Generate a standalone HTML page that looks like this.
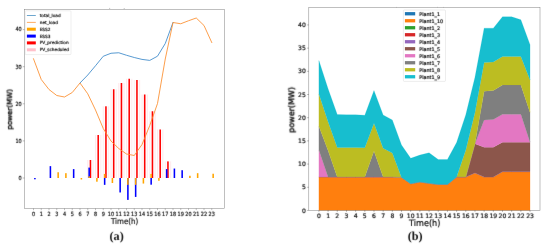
<!DOCTYPE html>
<html lang="en">
<head>
<meta charset="utf-8">
<title>Figure: load, PV and ESS scheduling (a) and plant output stack (b)</title>
<style>
html,body{margin:0;padding:0;background:#fff;}
body{width:550px;height:244px;overflow:hidden;}
svg{display:block;}
svg text{font-family:"DejaVu Sans", "Liberation Sans", sans-serif;fill:#0d0d0d;stroke:#0d0d0d;stroke-width:0.2px;filter:url(#tb);text-rendering:geometricPrecision;}
svg text.yl{stroke-width:0.36px;}
svg text.cap{font-family:"Liberation Serif","DejaVu Serif",serif;fill:#111;stroke:none;filter:url(#tc);}
</style>
</head>
<body>
<svg width="550" height="244" viewBox="0 0 550 244">
<defs><filter id="tb" x="-10%" y="-40%" width="120%" height="180%" color-interpolation-filters="sRGB"><feConvolveMatrix order="3" kernelMatrix="0.006 0.068 0.006 0.068 0.704 0.068 0.006 0.068 0.006" divisor="1" edgeMode="none"/></filter><filter id="tc" x="-10%" y="-40%" width="120%" height="180%" color-interpolation-filters="sRGB"><feConvolveMatrix order="3" kernelMatrix="0.008 0.07 0.008 0.07 0.688 0.07 0.008 0.07 0.008" divisor="1" edgeMode="none"/></filter></defs>
<rect x="0" y="0" width="550" height="244" fill="#fff"/>
<g id="left">
<rect x="24.45" y="9.3" width="200.05" height="199.25" fill="#fff"/>
<rect x="87.75" y="160" width="5.4" height="18" fill="#fffcfc"/>
<path d="M87.75 178V160M93.15 178V160" fill="none" stroke="#ffcdd6" stroke-width="0.42"/>
<rect x="95.5" y="135" width="5.4" height="43" fill="#fffcfc"/>
<path d="M95.5 178V135M100.9 178V135" fill="none" stroke="#ffcdd6" stroke-width="0.42"/>
<rect x="103.25" y="106.3" width="5.4" height="71.7" fill="#fffcfc"/>
<path d="M103.25 178V106.3M108.65 178V106.3" fill="none" stroke="#ffcdd6" stroke-width="0.42"/>
<rect x="111" y="89.25" width="5.4" height="88.75" fill="#fffcfc"/>
<path d="M111 178V89.25M116.4 178V89.25" fill="none" stroke="#ffcdd6" stroke-width="0.42"/>
<rect x="118.75" y="83" width="5.4" height="95" fill="#fffcfc"/>
<path d="M118.75 178V83M124.15 178V83" fill="none" stroke="#ffcdd6" stroke-width="0.42"/>
<rect x="126.5" y="78.75" width="5.4" height="99.25" fill="#fffcfc"/>
<path d="M126.5 178V78.75M131.9 178V78.75" fill="none" stroke="#ffcdd6" stroke-width="0.42"/>
<rect x="134.25" y="80" width="5.4" height="98" fill="#fffcfc"/>
<path d="M134.25 178V80M139.65 178V80" fill="none" stroke="#ffcdd6" stroke-width="0.42"/>
<rect x="142" y="94.5" width="5.4" height="83.5" fill="#fffcfc"/>
<path d="M142 178V94.5M147.4 178V94.5" fill="none" stroke="#ffcdd6" stroke-width="0.42"/>
<rect x="149.75" y="111.25" width="5.4" height="66.75" fill="#fffcfc"/>
<path d="M149.75 178V111.25M155.15 178V111.25" fill="none" stroke="#ffcdd6" stroke-width="0.42"/>
<rect x="157.5" y="129.5" width="5.4" height="48.5" fill="#fffcfc"/>
<path d="M157.5 178V129.5M162.9 178V129.5" fill="none" stroke="#ffcdd6" stroke-width="0.42"/>
<rect x="165.25" y="161.4" width="5.4" height="16.6" fill="#fffcfc"/>
<path d="M165.25 178V161.4M170.65 178V161.4" fill="none" stroke="#ffcdd6" stroke-width="0.42"/>
<rect x="89.67" y="160" width="1.55" height="18" fill="#ff0000"/>
<rect x="97.42" y="135" width="1.55" height="43" fill="#ff0000"/>
<rect x="105.17" y="106.3" width="1.55" height="71.7" fill="#ff0000"/>
<rect x="112.92" y="89.25" width="1.55" height="88.75" fill="#ff0000"/>
<rect x="120.67" y="83" width="1.55" height="95" fill="#ff0000"/>
<rect x="128.42" y="78.75" width="1.55" height="99.25" fill="#ff0000"/>
<rect x="136.17" y="80" width="1.55" height="98" fill="#ff0000"/>
<rect x="143.92" y="94.5" width="1.55" height="83.5" fill="#ff0000"/>
<rect x="151.67" y="111.25" width="1.55" height="66.75" fill="#ff0000"/>
<rect x="159.42" y="129.5" width="1.55" height="48.5" fill="#ff0000"/>
<rect x="167.17" y="161.4" width="1.55" height="16.6" fill="#ff0000"/>
<rect x="34.12" y="178" width="1.55" height="1.3" fill="#0000ff"/>
<rect x="49.62" y="166.13" width="1.55" height="11.87" fill="#0000ff"/>
<rect x="72.88" y="169.1" width="1.55" height="8.9" fill="#0000ff"/>
<rect x="88.38" y="167.61" width="1.55" height="10.39" fill="#0000ff"/>
<rect x="103.88" y="178" width="1.55" height="6.86" fill="#0000ff"/>
<rect x="119.38" y="178" width="1.55" height="14.47" fill="#0000ff"/>
<rect x="127.12" y="178" width="1.55" height="21.89" fill="#0000ff"/>
<rect x="134.88" y="178" width="1.55" height="18.92" fill="#0000ff"/>
<rect x="150.38" y="178" width="1.55" height="6.68" fill="#0000ff"/>
<rect x="165.88" y="169.1" width="1.55" height="8.9" fill="#0000ff"/>
<rect x="173.62" y="168.54" width="1.55" height="9.46" fill="#0000ff"/>
<rect x="181.38" y="170.21" width="1.55" height="7.79" fill="#0000ff"/>
<rect x="57.38" y="172.25" width="1.55" height="5.75" fill="#ffa500"/>
<rect x="65.12" y="173.18" width="1.55" height="4.82" fill="#ffa500"/>
<rect x="80.62" y="178" width="1.55" height="1.48" fill="#ffa500"/>
<rect x="88.38" y="176.33" width="1.55" height="1.67" fill="#ffa500"/>
<rect x="96.12" y="178" width="1.55" height="3.71" fill="#ffa500"/>
<rect x="103.88" y="173.92" width="1.55" height="4.08" fill="#ffa500"/>
<rect x="111.62" y="178" width="1.55" height="5.01" fill="#ffa500"/>
<rect x="127.12" y="178" width="1.55" height="6.86" fill="#ffa500"/>
<rect x="134.88" y="178" width="1.55" height="6.86" fill="#ffa500"/>
<rect x="142.62" y="178" width="1.55" height="5.56" fill="#ffa500"/>
<rect x="150.38" y="173.92" width="1.55" height="4.08" fill="#ffa500"/>
<rect x="158.12" y="178" width="1.55" height="2.78" fill="#ffa500"/>
<rect x="189.12" y="175.77" width="1.55" height="2.23" fill="#ffa500"/>
<rect x="196.88" y="173.18" width="1.55" height="4.82" fill="#ffa500"/>
<rect x="212.38" y="173.73" width="1.55" height="4.27" fill="#ffa500"/>
<polyline points="80,83 87.75,75 95.5,65.75 103.25,56.25 111,53.25 118.75,52.75 126.5,55.25 134.25,57.5 142,59.4 149.75,60.4 157.5,56.2 165.25,43.5 173,22.5" fill="none" stroke="#3a88c9" stroke-width="0.85" stroke-linejoin="round" stroke-linecap="square"/>
<polyline points="33.5,58.75 41.25,79.5 49,89.5 56.75,95.5 64.5,97 72.25,92.5 80,83 87.75,93.8 95.5,110 103.25,128.5 111,141 118.75,148.5 126.5,154 134.25,155.5 142,144.5 149.75,125.5 157.5,103.5 165.25,59 173,22.5 180.75,23.75 188.5,20.75 196.25,18 204,25.5 211.75,42.5" fill="none" stroke="#fb8c2c" stroke-width="0.85" stroke-linejoin="round" stroke-linecap="square"/>
<rect x="24.45" y="9.3" width="200.05" height="199.25" fill="none" stroke="#000" stroke-opacity="0.5" stroke-width="0.5"/>
<rect x="109.4" y="7.9" width="0.7" height="1.1" fill="#777" fill-opacity="0.6"/>
<rect x="123.8" y="8.0" width="0.7" height="1.1" fill="#777" fill-opacity="0.6"/>
<line x1="33.5" y1="208.55" x2="33.5" y2="210.15" stroke="#000" stroke-opacity="0.5" stroke-width="0.5"/>
<text transform="translate(33.5,215.65) scale(0.87,1)" font-size="5.7" text-anchor="middle">0</text>
<line x1="41.25" y1="208.55" x2="41.25" y2="210.15" stroke="#000" stroke-opacity="0.5" stroke-width="0.5"/>
<text transform="translate(41.25,215.65) scale(0.87,1)" font-size="5.7" text-anchor="middle">1</text>
<line x1="49" y1="208.55" x2="49" y2="210.15" stroke="#000" stroke-opacity="0.5" stroke-width="0.5"/>
<text transform="translate(49,215.65) scale(0.87,1)" font-size="5.7" text-anchor="middle">2</text>
<line x1="56.75" y1="208.55" x2="56.75" y2="210.15" stroke="#000" stroke-opacity="0.5" stroke-width="0.5"/>
<text transform="translate(56.75,215.65) scale(0.87,1)" font-size="5.7" text-anchor="middle">3</text>
<line x1="64.5" y1="208.55" x2="64.5" y2="210.15" stroke="#000" stroke-opacity="0.5" stroke-width="0.5"/>
<text transform="translate(64.5,215.65) scale(0.87,1)" font-size="5.7" text-anchor="middle">4</text>
<line x1="72.25" y1="208.55" x2="72.25" y2="210.15" stroke="#000" stroke-opacity="0.5" stroke-width="0.5"/>
<text transform="translate(72.25,215.65) scale(0.87,1)" font-size="5.7" text-anchor="middle">5</text>
<line x1="80" y1="208.55" x2="80" y2="210.15" stroke="#000" stroke-opacity="0.5" stroke-width="0.5"/>
<text transform="translate(80,215.65) scale(0.87,1)" font-size="5.7" text-anchor="middle">6</text>
<line x1="87.75" y1="208.55" x2="87.75" y2="210.15" stroke="#000" stroke-opacity="0.5" stroke-width="0.5"/>
<text transform="translate(87.75,215.65) scale(0.87,1)" font-size="5.7" text-anchor="middle">7</text>
<line x1="95.5" y1="208.55" x2="95.5" y2="210.15" stroke="#000" stroke-opacity="0.5" stroke-width="0.5"/>
<text transform="translate(95.5,215.65) scale(0.87,1)" font-size="5.7" text-anchor="middle">8</text>
<line x1="103.25" y1="208.55" x2="103.25" y2="210.15" stroke="#000" stroke-opacity="0.5" stroke-width="0.5"/>
<text transform="translate(103.25,215.65) scale(0.87,1)" font-size="5.7" text-anchor="middle">9</text>
<line x1="111" y1="208.55" x2="111" y2="210.15" stroke="#000" stroke-opacity="0.5" stroke-width="0.5"/>
<text transform="translate(111,215.65) scale(0.87,1)" font-size="5.7" text-anchor="middle">10</text>
<line x1="118.75" y1="208.55" x2="118.75" y2="210.15" stroke="#000" stroke-opacity="0.5" stroke-width="0.5"/>
<text transform="translate(118.75,215.65) scale(0.87,1)" font-size="5.7" text-anchor="middle">11</text>
<line x1="126.5" y1="208.55" x2="126.5" y2="210.15" stroke="#000" stroke-opacity="0.5" stroke-width="0.5"/>
<text transform="translate(126.5,215.65) scale(0.87,1)" font-size="5.7" text-anchor="middle">12</text>
<line x1="134.25" y1="208.55" x2="134.25" y2="210.15" stroke="#000" stroke-opacity="0.5" stroke-width="0.5"/>
<text transform="translate(134.25,215.65) scale(0.87,1)" font-size="5.7" text-anchor="middle">13</text>
<line x1="142" y1="208.55" x2="142" y2="210.15" stroke="#000" stroke-opacity="0.5" stroke-width="0.5"/>
<text transform="translate(142,215.65) scale(0.87,1)" font-size="5.7" text-anchor="middle">14</text>
<line x1="149.75" y1="208.55" x2="149.75" y2="210.15" stroke="#000" stroke-opacity="0.5" stroke-width="0.5"/>
<text transform="translate(149.75,215.65) scale(0.87,1)" font-size="5.7" text-anchor="middle">15</text>
<line x1="157.5" y1="208.55" x2="157.5" y2="210.15" stroke="#000" stroke-opacity="0.5" stroke-width="0.5"/>
<text transform="translate(157.5,215.65) scale(0.87,1)" font-size="5.7" text-anchor="middle">16</text>
<line x1="165.25" y1="208.55" x2="165.25" y2="210.15" stroke="#000" stroke-opacity="0.5" stroke-width="0.5"/>
<text transform="translate(165.25,215.65) scale(0.87,1)" font-size="5.7" text-anchor="middle">17</text>
<line x1="173" y1="208.55" x2="173" y2="210.15" stroke="#000" stroke-opacity="0.5" stroke-width="0.5"/>
<text transform="translate(173,215.65) scale(0.87,1)" font-size="5.7" text-anchor="middle">18</text>
<line x1="180.75" y1="208.55" x2="180.75" y2="210.15" stroke="#000" stroke-opacity="0.5" stroke-width="0.5"/>
<text transform="translate(180.75,215.65) scale(0.87,1)" font-size="5.7" text-anchor="middle">19</text>
<line x1="188.5" y1="208.55" x2="188.5" y2="210.15" stroke="#000" stroke-opacity="0.5" stroke-width="0.5"/>
<text transform="translate(188.5,215.65) scale(0.87,1)" font-size="5.7" text-anchor="middle">20</text>
<line x1="196.25" y1="208.55" x2="196.25" y2="210.15" stroke="#000" stroke-opacity="0.5" stroke-width="0.5"/>
<text transform="translate(196.25,215.65) scale(0.87,1)" font-size="5.7" text-anchor="middle">21</text>
<line x1="204" y1="208.55" x2="204" y2="210.15" stroke="#000" stroke-opacity="0.5" stroke-width="0.5"/>
<text transform="translate(204,215.65) scale(0.87,1)" font-size="5.7" text-anchor="middle">22</text>
<line x1="211.75" y1="208.55" x2="211.75" y2="210.15" stroke="#000" stroke-opacity="0.5" stroke-width="0.5"/>
<text transform="translate(211.75,215.65) scale(0.87,1)" font-size="5.7" text-anchor="middle">23</text>
<line x1="22.85" y1="178" x2="24.45" y2="178" stroke="#000" stroke-opacity="0.5" stroke-width="0.5"/>
<text transform="translate(21.75,179.85) scale(0.87,1)" font-size="5.7" text-anchor="end">0</text>
<line x1="22.85" y1="140.9" x2="24.45" y2="140.9" stroke="#000" stroke-opacity="0.5" stroke-width="0.5"/>
<text transform="translate(21.75,142.75) scale(0.87,1)" font-size="5.7" text-anchor="end">10</text>
<line x1="22.85" y1="103.8" x2="24.45" y2="103.8" stroke="#000" stroke-opacity="0.5" stroke-width="0.5"/>
<text transform="translate(21.75,105.65) scale(0.87,1)" font-size="5.7" text-anchor="end">20</text>
<line x1="22.85" y1="66.7" x2="24.45" y2="66.7" stroke="#000" stroke-opacity="0.5" stroke-width="0.5"/>
<text transform="translate(21.75,68.55) scale(0.87,1)" font-size="5.7" text-anchor="end">30</text>
<line x1="22.85" y1="29.6" x2="24.45" y2="29.6" stroke="#000" stroke-opacity="0.5" stroke-width="0.5"/>
<text transform="translate(21.75,31.45) scale(0.87,1)" font-size="5.7" text-anchor="end">40</text>
<text transform="translate(124.6,223.8) scale(0.88,1)" font-size="8.0" text-anchor="middle">Time(h)</text>
<text transform="translate(12.0,109.4) rotate(-90)" class="yl" font-size="7.1" text-anchor="middle">power(MW)</text>
<rect x="25.2" y="10.8" width="45.8" height="43.8" rx="0.8" fill="#fff" fill-opacity="0.8" stroke="#ccc" stroke-opacity="0.8" stroke-width="0.4"/>
<line x1="26.9" y1="15.5" x2="35.8" y2="15.5" stroke="#1f77b4" stroke-width="0.65"/>
<text x="39.7" y="17.05" font-size="4.25">total_load</text>
<line x1="26.9" y1="22.4" x2="35.8" y2="22.4" stroke="#ff7f0e" stroke-width="0.65"/>
<text x="39.7" y="23.95" font-size="4.25">net_load</text>
<rect x="26.9" y="27.7" width="8.9" height="3" fill="#ffa500"/>
<text x="39.7" y="30.75" font-size="4.25">ESS2</text>
<rect x="26.9" y="34.6" width="8.9" height="3" fill="#0000ff"/>
<text x="39.7" y="37.65" font-size="4.25">ESS3</text>
<rect x="26.9" y="41.4" width="8.9" height="3" fill="#ff0000"/>
<text x="39.7" y="44.45" font-size="4.25">PV_prediction</text>
<rect x="26.9" y="48.3" width="8.9" height="3" fill="#ffc0cb"/>
<text x="39.7" y="51.35" font-size="4.25">PV_scheduled</text>
</g>
<g id="right">
<rect x="308.8" y="7.6" width="231.2" height="202.65" fill="#fff"/>
<polygon points="318.9,177.02 328.08,177.02 337.26,177.02 346.44,177.02 355.62,177.02 364.8,177.02 373.98,177.02 383.16,177.02 392.34,177.02 401.52,177.44 410.7,183.74 419.88,181.98 429.06,183.37 438.24,184.48 447.42,184.48 456.6,177.02 465.78,177.02 474.96,172.95 484.14,177.12 493.32,177.12 502.5,171.65 511.68,171.65 520.86,171.65 530.04,171.65 530.04,210.25 520.86,210.25 511.68,210.25 502.5,210.25 493.32,210.25 484.14,210.25 474.96,210.25 465.78,210.25 456.6,210.25 447.42,210.25 438.24,210.25 429.06,210.25 419.88,210.25 410.7,210.25 401.52,210.25 392.34,210.25 383.16,210.25 373.98,210.25 364.8,210.25 355.62,210.25 346.44,210.25 337.26,210.25 328.08,210.25 318.9,210.25" fill="#ff7f0e" stroke="#ff7f0e" stroke-width="0.2"/>
<polygon points="318.9,177.02 328.08,177.02 337.26,177.02 346.44,177.02 355.62,177.02 364.8,177.02 373.98,177.02 383.16,177.02 392.34,177.02 401.52,177.44 410.7,183.74 419.88,181.98 429.06,183.37 438.24,184.48 447.42,184.48 456.6,177.02 465.78,177.02 474.96,143.75 484.14,147.23 493.32,147.23 502.5,142.13 511.68,142.13 520.86,142.13 530.04,142.13 530.04,171.65 520.86,171.65 511.68,171.65 502.5,171.65 493.32,177.12 484.14,177.12 474.96,172.95 465.78,177.02 456.6,177.02 447.42,184.48 438.24,184.48 429.06,183.37 419.88,181.98 410.7,183.74 401.52,177.44 392.34,177.02 383.16,177.02 373.98,177.02 364.8,177.02 355.62,177.02 346.44,177.02 337.26,177.02 328.08,177.02 318.9,177.02" fill="#8c564b" stroke="#8c564b" stroke-width="0.2"/>
<polygon points="318.9,150.01 328.08,177.02 337.26,177.02 346.44,177.02 355.62,177.02 364.8,177.02 373.98,177.02 383.16,177.02 392.34,177.02 401.52,177.44 410.7,183.74 419.88,181.98 429.06,183.37 438.24,184.48 447.42,184.48 456.6,177.02 465.78,177.02 474.96,143.75 484.14,119.89 493.32,119.42 502.5,114.33 511.68,114.33 520.86,114.33 530.04,142.13 530.04,142.13 520.86,142.13 511.68,142.13 502.5,142.13 493.32,147.23 484.14,147.23 474.96,143.75 465.78,177.02 456.6,177.02 447.42,184.48 438.24,184.48 429.06,183.37 419.88,181.98 410.7,183.74 401.52,177.44 392.34,177.02 383.16,177.02 373.98,177.02 364.8,177.02 355.62,177.02 346.44,177.02 337.26,177.02 328.08,177.02 318.9,177.02" fill="#e377c2" stroke="#e377c2" stroke-width="0.2"/>
<polygon points="318.9,126.37 328.08,150.47 337.26,177.02 346.44,177.02 355.62,177.02 364.8,177.02 373.98,150.93 383.16,177.02 392.34,177.02 401.52,177.44 410.7,183.74 419.88,181.98 429.06,183.37 438.24,184.48 447.42,184.48 456.6,177.02 465.78,177.02 474.96,143.75 484.14,91.16 493.32,90.46 502.5,84.9 511.68,84.9 520.86,84.9 530.04,112.47 530.04,142.13 520.86,114.33 511.68,114.33 502.5,114.33 493.32,119.42 484.14,119.89 474.96,143.75 465.78,177.02 456.6,177.02 447.42,184.48 438.24,184.48 429.06,183.37 419.88,181.98 410.7,183.74 401.52,177.44 392.34,177.02 383.16,177.02 373.98,177.02 364.8,177.02 355.62,177.02 346.44,177.02 337.26,177.02 328.08,177.02 318.9,150.01" fill="#7f7f7f" stroke="#7f7f7f" stroke-width="0.2"/>
<polygon points="318.9,93.94 328.08,121.74 337.26,147.51 346.44,147.51 355.62,147.51 364.8,147.69 373.98,123.13 383.16,148.15 392.34,153.02 401.52,177.44 410.7,183.74 419.88,181.98 429.06,183.37 438.24,184.48 447.42,184.48 456.6,177.02 465.78,150.01 474.96,112.47 484.14,62.43 493.32,61.96 502.5,56.4 511.68,56.4 520.86,56.4 530.04,80.03 530.04,112.47 520.86,84.9 511.68,84.9 502.5,84.9 493.32,90.46 484.14,91.16 474.96,143.75 465.78,177.02 456.6,177.02 447.42,184.48 438.24,184.48 429.06,183.37 419.88,181.98 410.7,183.74 401.52,177.44 392.34,177.02 383.16,177.02 373.98,150.93 364.8,177.02 355.62,177.02 346.44,177.02 337.26,177.02 328.08,150.47 318.9,126.37" fill="#bcbd22" stroke="#bcbd22" stroke-width="0.2"/>
<polygon points="318.9,60.57 328.08,88.84 337.26,114.51 346.44,114.79 355.62,114.79 364.8,115.25 373.98,90.51 383.16,115.02 392.34,119.89 401.52,145 410.7,158.35 419.88,155.11 429.06,152.79 438.24,159.51 447.42,159.51 456.6,142.59 465.78,114.79 474.96,77.25 484.14,28.13 493.32,28.13 502.5,16.78 511.68,16.78 520.86,19.79 530.04,44.82 530.04,80.03 520.86,56.4 511.68,56.4 502.5,56.4 493.32,61.96 484.14,62.43 474.96,112.47 465.78,150.01 456.6,177.02 447.42,184.48 438.24,184.48 429.06,183.37 419.88,181.98 410.7,183.74 401.52,177.44 392.34,153.02 383.16,148.15 373.98,123.13 364.8,147.69 355.62,147.51 346.44,147.51 337.26,147.51 328.08,121.74 318.9,93.94" fill="#17becf" stroke="#17becf" stroke-width="0.2"/>
<polyline points="318.9,177.02 328.08,177.02 337.26,177.02 346.44,177.02 355.62,177.02 364.8,177.02 373.98,177.02 383.16,177.02 392.34,177.02 401.52,177.44 410.7,183.74 419.88,181.98 429.06,183.37 438.24,184.48 447.42,184.48 456.6,177.02 465.78,177.02 474.96,172.95 484.14,177.12 493.32,177.12 502.5,171.65 511.68,171.65 520.86,171.65 530.04,171.65" fill="none" stroke="#9467bd" stroke-opacity="0.75" stroke-width="0.35"/>
<rect x="308.8" y="7.6" width="231.2" height="202.65" fill="none" stroke="#000" stroke-opacity="0.5" stroke-width="0.5"/>
<rect x="396.4" y="6.9" width="0.6" height="0.8" fill="#888" fill-opacity="0.5"/>
<rect x="437.4" y="6.8" width="0.6" height="0.8" fill="#888" fill-opacity="0.5"/>
<rect x="443" y="6.9" width="0.6" height="0.8" fill="#888" fill-opacity="0.5"/>
<line x1="318.9" y1="210.25" x2="318.9" y2="211.95" stroke="#000" stroke-opacity="0.5" stroke-width="0.5"/>
<text x="318.9" y="217.9" font-size="6.1" text-anchor="middle">0</text>
<line x1="328.08" y1="210.25" x2="328.08" y2="211.95" stroke="#000" stroke-opacity="0.5" stroke-width="0.5"/>
<text x="328.08" y="217.9" font-size="6.1" text-anchor="middle">1</text>
<line x1="337.26" y1="210.25" x2="337.26" y2="211.95" stroke="#000" stroke-opacity="0.5" stroke-width="0.5"/>
<text x="337.26" y="217.9" font-size="6.1" text-anchor="middle">2</text>
<line x1="346.44" y1="210.25" x2="346.44" y2="211.95" stroke="#000" stroke-opacity="0.5" stroke-width="0.5"/>
<text x="346.44" y="217.9" font-size="6.1" text-anchor="middle">3</text>
<line x1="355.62" y1="210.25" x2="355.62" y2="211.95" stroke="#000" stroke-opacity="0.5" stroke-width="0.5"/>
<text x="355.62" y="217.9" font-size="6.1" text-anchor="middle">4</text>
<line x1="364.8" y1="210.25" x2="364.8" y2="211.95" stroke="#000" stroke-opacity="0.5" stroke-width="0.5"/>
<text x="364.8" y="217.9" font-size="6.1" text-anchor="middle">5</text>
<line x1="373.98" y1="210.25" x2="373.98" y2="211.95" stroke="#000" stroke-opacity="0.5" stroke-width="0.5"/>
<text x="373.98" y="217.9" font-size="6.1" text-anchor="middle">6</text>
<line x1="383.16" y1="210.25" x2="383.16" y2="211.95" stroke="#000" stroke-opacity="0.5" stroke-width="0.5"/>
<text x="383.16" y="217.9" font-size="6.1" text-anchor="middle">7</text>
<line x1="392.34" y1="210.25" x2="392.34" y2="211.95" stroke="#000" stroke-opacity="0.5" stroke-width="0.5"/>
<text x="392.34" y="217.9" font-size="6.1" text-anchor="middle">8</text>
<line x1="401.52" y1="210.25" x2="401.52" y2="211.95" stroke="#000" stroke-opacity="0.5" stroke-width="0.5"/>
<text x="401.52" y="217.9" font-size="6.1" text-anchor="middle">9</text>
<line x1="410.7" y1="210.25" x2="410.7" y2="211.95" stroke="#000" stroke-opacity="0.5" stroke-width="0.5"/>
<text x="410.7" y="217.9" font-size="6.1" text-anchor="middle">10</text>
<line x1="419.88" y1="210.25" x2="419.88" y2="211.95" stroke="#000" stroke-opacity="0.5" stroke-width="0.5"/>
<text x="419.88" y="217.9" font-size="6.1" text-anchor="middle">11</text>
<line x1="429.06" y1="210.25" x2="429.06" y2="211.95" stroke="#000" stroke-opacity="0.5" stroke-width="0.5"/>
<text x="429.06" y="217.9" font-size="6.1" text-anchor="middle">12</text>
<line x1="438.24" y1="210.25" x2="438.24" y2="211.95" stroke="#000" stroke-opacity="0.5" stroke-width="0.5"/>
<text x="438.24" y="217.9" font-size="6.1" text-anchor="middle">13</text>
<line x1="447.42" y1="210.25" x2="447.42" y2="211.95" stroke="#000" stroke-opacity="0.5" stroke-width="0.5"/>
<text x="447.42" y="217.9" font-size="6.1" text-anchor="middle">14</text>
<line x1="456.6" y1="210.25" x2="456.6" y2="211.95" stroke="#000" stroke-opacity="0.5" stroke-width="0.5"/>
<text x="456.6" y="217.9" font-size="6.1" text-anchor="middle">15</text>
<line x1="465.78" y1="210.25" x2="465.78" y2="211.95" stroke="#000" stroke-opacity="0.5" stroke-width="0.5"/>
<text x="465.78" y="217.9" font-size="6.1" text-anchor="middle">16</text>
<line x1="474.96" y1="210.25" x2="474.96" y2="211.95" stroke="#000" stroke-opacity="0.5" stroke-width="0.5"/>
<text x="474.96" y="217.9" font-size="6.1" text-anchor="middle">17</text>
<line x1="484.14" y1="210.25" x2="484.14" y2="211.95" stroke="#000" stroke-opacity="0.5" stroke-width="0.5"/>
<text x="484.14" y="217.9" font-size="6.1" text-anchor="middle">18</text>
<line x1="493.32" y1="210.25" x2="493.32" y2="211.95" stroke="#000" stroke-opacity="0.5" stroke-width="0.5"/>
<text x="493.32" y="217.9" font-size="6.1" text-anchor="middle">19</text>
<line x1="502.5" y1="210.25" x2="502.5" y2="211.95" stroke="#000" stroke-opacity="0.5" stroke-width="0.5"/>
<text x="502.5" y="217.9" font-size="6.1" text-anchor="middle">20</text>
<line x1="511.68" y1="210.25" x2="511.68" y2="211.95" stroke="#000" stroke-opacity="0.5" stroke-width="0.5"/>
<text x="511.68" y="217.9" font-size="6.1" text-anchor="middle">21</text>
<line x1="520.86" y1="210.25" x2="520.86" y2="211.95" stroke="#000" stroke-opacity="0.5" stroke-width="0.5"/>
<text x="520.86" y="217.9" font-size="6.1" text-anchor="middle">22</text>
<line x1="530.04" y1="210.25" x2="530.04" y2="211.95" stroke="#000" stroke-opacity="0.5" stroke-width="0.5"/>
<text x="530.04" y="217.9" font-size="6.1" text-anchor="middle">23</text>
<line x1="307.1" y1="210.45" x2="308.8" y2="210.45" stroke="#000" stroke-opacity="0.5" stroke-width="0.5"/>
<text x="305.8" y="212.6" font-size="6.1" text-anchor="end">0</text>
<line x1="307.1" y1="187.26" x2="308.8" y2="187.26" stroke="#000" stroke-opacity="0.5" stroke-width="0.5"/>
<text x="305.8" y="189.41" font-size="6.1" text-anchor="end">5</text>
<line x1="307.1" y1="164.07" x2="308.8" y2="164.07" stroke="#000" stroke-opacity="0.5" stroke-width="0.5"/>
<text x="305.8" y="166.22" font-size="6.1" text-anchor="end">10</text>
<line x1="307.1" y1="140.88" x2="308.8" y2="140.88" stroke="#000" stroke-opacity="0.5" stroke-width="0.5"/>
<text x="305.8" y="143.03" font-size="6.1" text-anchor="end">15</text>
<line x1="307.1" y1="117.69" x2="308.8" y2="117.69" stroke="#000" stroke-opacity="0.5" stroke-width="0.5"/>
<text x="305.8" y="119.84" font-size="6.1" text-anchor="end">20</text>
<line x1="307.1" y1="94.5" x2="308.8" y2="94.5" stroke="#000" stroke-opacity="0.5" stroke-width="0.5"/>
<text x="305.8" y="96.65" font-size="6.1" text-anchor="end">25</text>
<line x1="307.1" y1="71.31" x2="308.8" y2="71.31" stroke="#000" stroke-opacity="0.5" stroke-width="0.5"/>
<text x="305.8" y="73.46" font-size="6.1" text-anchor="end">30</text>
<line x1="307.1" y1="48.12" x2="308.8" y2="48.12" stroke="#000" stroke-opacity="0.5" stroke-width="0.5"/>
<text x="305.8" y="50.27" font-size="6.1" text-anchor="end">35</text>
<line x1="307.1" y1="24.93" x2="308.8" y2="24.93" stroke="#000" stroke-opacity="0.5" stroke-width="0.5"/>
<text x="305.8" y="27.08" font-size="6.1" text-anchor="end">40</text>
<text transform="translate(424.7,226.2) scale(0.93,1)" font-size="8.75" text-anchor="middle">Time(h)</text>
<text transform="translate(294.2,109.8) rotate(-90)" class="yl" font-size="8.0" text-anchor="middle">power(MW)</text>
<rect x="403.4" y="10.0" width="42.1" height="71.4" rx="0.9" fill="#fff" fill-opacity="0.8" stroke="#ccc" stroke-opacity="0.8" stroke-width="0.45"/>
<rect x="404.9" y="12.1" width="10.3" height="3.3" fill="#1f77b4"/>
<text x="419.3" y="15.5" font-size="4.85">Plant1_1</text>
<rect x="404.9" y="19.1" width="10.3" height="3.3" fill="#ff7f0e"/>
<text x="419.3" y="22.5" font-size="4.85">Plant1_10</text>
<rect x="404.9" y="26.1" width="10.3" height="3.3" fill="#2ca02c"/>
<text x="419.3" y="29.5" font-size="4.85">Plant1_2</text>
<rect x="404.9" y="33.1" width="10.3" height="3.3" fill="#d62728"/>
<text x="419.3" y="36.5" font-size="4.85">Plant1_3</text>
<rect x="404.9" y="40.1" width="10.3" height="3.3" fill="#9467bd"/>
<text x="419.3" y="43.5" font-size="4.85">Plant1_4</text>
<rect x="404.9" y="47.1" width="10.3" height="3.3" fill="#8c564b"/>
<text x="419.3" y="50.5" font-size="4.85">Plant1_5</text>
<rect x="404.9" y="54.1" width="10.3" height="3.3" fill="#e377c2"/>
<text x="419.3" y="57.5" font-size="4.85">Plant1_6</text>
<rect x="404.9" y="61.1" width="10.3" height="3.3" fill="#7f7f7f"/>
<text x="419.3" y="64.5" font-size="4.85">Plant1_7</text>
<rect x="404.9" y="68.1" width="10.3" height="3.3" fill="#bcbd22"/>
<text x="419.3" y="71.5" font-size="4.85">Plant1_8</text>
<rect x="404.9" y="75.1" width="10.3" height="3.3" fill="#17becf"/>
<text x="419.3" y="78.5" font-size="4.85">Plant1_9</text>
</g>
<text x="116.6" y="239.6" font-size="12.2" font-weight="bold" text-anchor="middle" class="cap">(a)</text>
<text x="415.1" y="239.6" font-size="12.2" font-weight="bold" text-anchor="middle" class="cap">(b)</text>
</svg>
</body>
</html>
